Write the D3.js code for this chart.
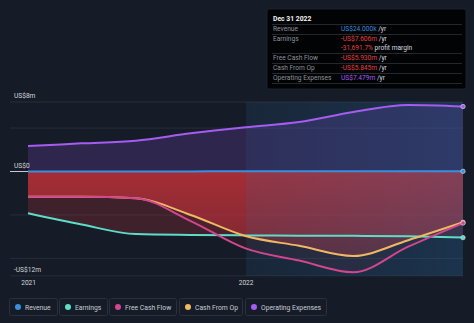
<!DOCTYPE html>
<html><head><meta charset="utf-8">
<script src="https://cdn.jsdelivr.net/npm/d3@7"></script>
<style>
html,body{margin:0;padding:0;background:#161c27;}
svg{display:block;font-family:Roboto,"Noto Sans",sans-serif;}
</style></head>
<body>
<svg id="c" width="474" height="323"></svg>
<script>
// ---- data (US$ millions) ----
const dates = ["2020-12-31","2021-03-31","2021-06-30","2021-09-30","2021-12-31","2022-03-31","2022-06-30","2022-09-30","2022-12-31"];
const revenue = [0.01,0.01,0.01,0.015,0.02,0.02,0.02,0.022,0.024];
const earnings = [-4.8,-6.1,-7.2,-7.3,-7.35,-7.38,-7.4,-7.45,-7.606];
const freeCashFlow = [-2.9,-2.9,-3.07,-5.7,-8.85,-10.25,-11.6,-8.65,-5.93];
const cashFromOp = [-2.9,-2.9,-3.07,-5.0,-7.42,-8.55,-9.72,-7.9,-5.845];
const opExpenses = [2.93,3.24,3.55,4.4,5.1,5.7,6.85,7.65,7.479];
const yTickValues = [8,0,-12];
const yTickLabels = ["US$8m","US$0","-US$12m"];
const gridValues = [8,5,0,-5,-10,-12];
const xTickDates = ["2021-01-01","2022-01-01"];
const xTickLabels = ["2021","2022"];
const highlightStart = "2022-01-01";
const legendNames = ["Revenue","Earnings","Free Cash Flow","Cash From Op","Operating Expenses"];
const tipTitle = "Dec 31 2022";
const tipLabels = ["Revenue","Earnings","","Free Cash Flow","Cash From Op","Operating Expenses"];
const tipValues = ["US$24.000k","-US$7.606m","-31,691.7%","-US$5.930m","-US$5.845m","US$7.479m"];
const tipSuffix = [" /yr"," /yr"," profit margin"," /yr"," /yr"," /yr"];

const colors = {rev:"#3a8ede", earn:"#5fdcc8", fcf:"#d2468f", cfo:"#f0b862", opex:"#a55cf0"};
const legendColors = [colors.rev, colors.earn, colors.fcf, colors.cfo, colors.opex];
const tipColors = ["#3a8ede","#e8403f","#e8403f","#e8403f","#e8403f","#a55cf0"];

const parse = d3.timeParse("%Y-%m-%d");
const D = dates.map(parse);
const svg = d3.select("#c");
const x = d3.scaleTime().domain([D[0], D[D.length-1]]).range([28, 463]);
const y = d3.scaleLinear().domain([-12, 8]).range([275.8, 102]);
const gl = 10, gr = 463;

const defs = svg.append("defs");
const rg = defs.append("linearGradient").attr("id","redG").attr("gradientUnits","userSpaceOnUse")
  .attr("x1",0).attr("x2",0).attr("y1",y(0)).attr("y2",y(-12));
rg.append("stop").attr("offset",0).attr("stop-color","#e2353c").attr("stop-opacity",0.6);
rg.append("stop").attr("offset",1).attr("stop-color","#e2353c").attr("stop-opacity",0.25);
const hg = defs.append("linearGradient").attr("id","hiG").attr("gradientUnits","userSpaceOnUse")
  .attr("x1",x(parse(highlightStart))).attr("x2",gr).attr("y1",0).attr("y2",0);
hg.append("stop").attr("offset",0).attr("stop-color","#2a6fae").attr("stop-opacity",0.13);
hg.append("stop").attr("offset",1).attr("stop-color","#2a6fae").attr("stop-opacity",0.28);

// grid
svg.append("g").selectAll("line").data(gridValues).join("line")
  .attr("x1",gl).attr("x2",gr).attr("y1",d=>y(d)).attr("y2",d=>y(d))
  .attr("stroke","#262d3a").attr("stroke-width",1);

const curve = d3.curveMonotoneX;
function area(vals){ return d3.area().curve(curve).x((d,i)=>x(D[i])).y0(y(0)).y1(d=>y(d))(vals); }
function line(vals){ return d3.line().curve(curve).x((d,i)=>x(D[i])).y(d=>y(d))(vals); }

// fills
svg.append("path").attr("d",area(opExpenses)).attr("fill","#9650e6").attr("fill-opacity",0.2);
svg.append("path").attr("d",area(earnings)).attr("fill","#e2353c").attr("fill-opacity",0.2);
svg.append("path").attr("d",area(freeCashFlow)).attr("fill","#e2353c").attr("fill-opacity",0.08);
svg.append("path").attr("d",area(cashFromOp)).attr("fill","url(#redG)");

// highlight overlay (last year)
svg.append("rect").attr("x",x(parse(highlightStart))).attr("y",y(8))
  .attr("width",gr - x(parse(highlightStart))).attr("height",y(-12)-y(8)).attr("fill","url(#hiG)");

// zero line
svg.append("line").attr("x1",gl).attr("x2",gr).attr("y1",y(0)).attr("y2",y(0))
  .attr("stroke","#c9ccd2").attr("stroke-width",1);

// lines
const series = [[opExpenses,colors.opex],[earnings,colors.earn],[cashFromOp,colors.cfo],[freeCashFlow,colors.fcf],[revenue,colors.rev]];
series.forEach(([v,c])=>{
  svg.append("path").attr("d",line(v)).attr("fill","none").attr("stroke",c).attr("stroke-width",2);
  svg.append("circle").attr("cx",x(D[D.length-1])).attr("cy",y(v[v.length-1])).attr("r",2.2)
    .attr("fill",c).attr("stroke","#dfe3ea").attr("stroke-width",0.6);
});

// y labels
svg.append("g").selectAll("text").data(yTickValues).join("text")
  .attr("x",14).attr("y",d=>y(d)-4).text((d,i)=>yTickLabels[i])
  .attr("fill","#d4d7dc").attr("font-size",6.6);

// x labels
svg.append("g").selectAll("text").data(xTickDates).join("text")
  .attr("x",d=>x(parse(d))).attr("y",285).attr("text-anchor","middle").text((d,i)=>xTickLabels[i])
  .attr("fill","#d4d7dc").attr("font-size",6.6);

// legend
const legendX = [9,59,109,179,245];
const legendW = [48,48,67,63,81];
const lg = svg.append("g");
legendNames.forEach((n,i)=>{
  const g = lg.append("g").attr("transform",`translate(${legendX[i]},298)`);
  g.append("rect").attr("x",0.5).attr("y",0.5).attr("width",legendW[i]).attr("height",17).attr("rx",2)
    .attr("fill","none").attr("stroke","#2a303c");
  g.append("circle").attr("cx",9).attr("cy",9).attr("r",3).attr("fill",legendColors[i]);
  g.append("text").attr("x",16).attr("y",11.5).text(n).attr("fill","#c9cdd3").attr("font-size",6.8);
});

// tooltip
const tg = svg.append("g");
tg.append("rect").attr("x",267).attr("y",9).attr("width",199).attr("height",80).attr("rx",2)
  .attr("fill","#020304").attr("stroke","#1c212b");
tg.append("text").attr("x",273).attr("y",20.5).text(tipTitle).attr("fill","#f2f3f5")
  .attr("font-size",6.8).attr("font-weight","bold");
const rowY = [30.5,40.5,50,60,70,80];
const sepY = [24.5,34.5,53.5,63.5,73.5,83.5];
sepY.forEach(s=>tg.append("line").attr("x1",272).attr("x2",462).attr("y1",s).attr("y2",s)
  .attr("stroke","#2c323c").attr("stroke-width",0.8));
tipLabels.forEach((l,i)=>{
  tg.append("text").attr("x",273).attr("y",rowY[i]).text(l).attr("fill","#8d929b").attr("font-size",6.6);
  const t = tg.append("text").attr("x",341).attr("y",rowY[i]).attr("font-size",6.6);
  t.append("tspan").text(tipValues[i]).attr("fill",tipColors[i]);
  t.append("tspan").text(tipSuffix[i]).attr("fill","#d8dbe0");
});
</script>
</body></html>
